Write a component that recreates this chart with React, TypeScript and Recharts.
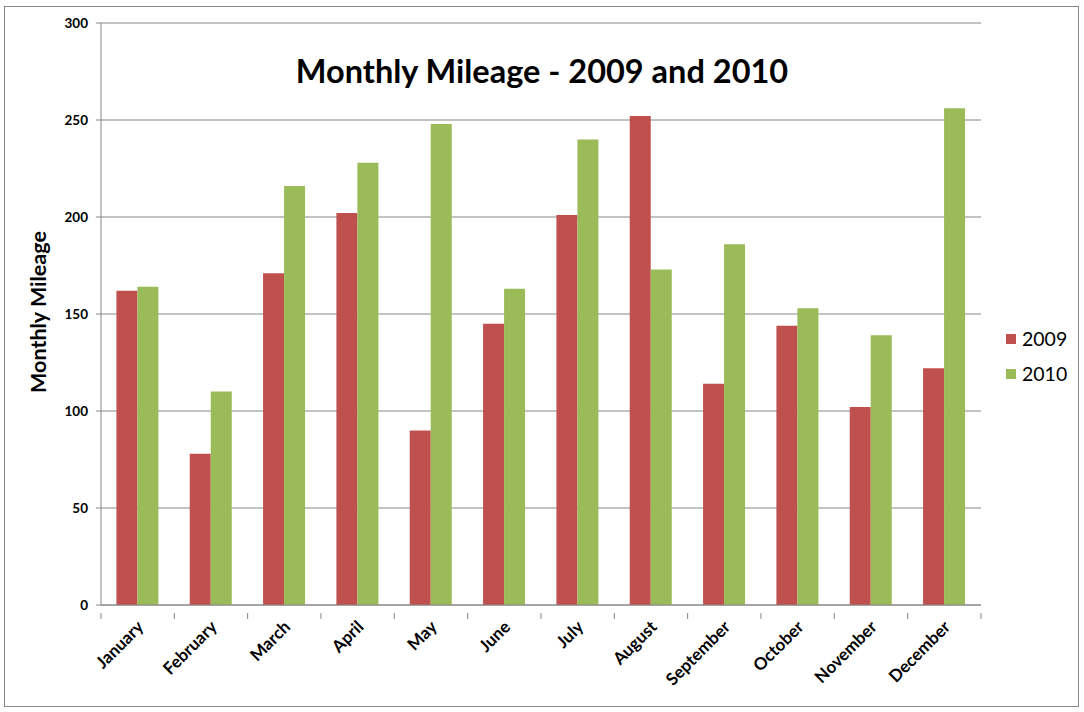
import { BarChart, Bar, XAxis, YAxis, CartesianGrid } from 'recharts';

const MONTHS = [
  'January', 'February', 'March', 'April', 'May', 'June',
  'July', 'August', 'September', 'October', 'November', 'December',
];
const MILES_2009 = [162, 78, 171, 202, 90, 145, 201, 252, 114, 144, 102, 122];
const MILES_2010 = [164, 110, 216, 228, 248, 163, 240, 173, 186, 153, 139, 256];
const Y_TICKS = [0, 50, 100, 150, 200, 250, 300];

const SERIES = [
  { key: 'y2009', name: '2009', color: '#C0504D' },
  { key: 'y2010', name: '2010', color: '#9BBB59' },
];

const data = MONTHS.map((month, i) => ({
  month,
  y2009: MILES_2009[i],
  y2010: MILES_2010[i],
}));

const FONT = 'Lato, "Open Sans", sans-serif';
const GRID = '#868686';

const W = 1084;
const H = 712;
const PLOT_LEFT = 101;
const PLOT_RIGHT = 981;
const PLOT_TOP = 23;
const PLOT_BOTTOM = 605;
const BAND = (PLOT_RIGHT - PLOT_LEFT) / MONTHS.length;

const MonthTick = ({ x, y, payload, index }: any) => {
  const left = x - BAND / 2;
  const ax = x + 7;
  const ay = y + 15;
  return (
    <g>
      <line x1={left} y1={y} x2={left} y2={y + 6} stroke={GRID} />
      {index === MONTHS.length - 1 && (
        <line x1={x + BAND / 2} y1={y} x2={x + BAND / 2} y2={y + 6} stroke={GRID} />
      )}
      <text
        x={ax}
        y={ay}
        transform={`rotate(-45 ${ax} ${ay})`}
        textAnchor="end"
        fontFamily={FONT}
        fontWeight="bold"
        fontSize={17}
        fill="#000"
      >
        {payload.value}
      </text>
    </g>
  );
};

export default function App() {
  return (
    <div style={{ position: 'absolute', left: 0, top: 0, width: W, height: H, background: '#fff' }}>
      <div
        style={{
          position: 'absolute', left: 4, top: 6, width: 1075, height: 701,
          border: '1px solid #888', boxSizing: 'border-box',
        }}
      />
      <BarChart
        width={W}
        height={H}
        data={data}
        margin={{ top: PLOT_TOP, right: W - PLOT_RIGHT, bottom: H - PLOT_BOTTOM - 60, left: PLOT_LEFT - 60 }}
        barCategoryGap="21%"
        barGap={0}
      >
        <CartesianGrid vertical={false} stroke={GRID} strokeWidth={1} />
        <XAxis
          dataKey="month"
          height={60}
          axisLine={{ stroke: GRID }}
          tickLine={false}
          interval={0}
          tick={<MonthTick />}
        />
        <YAxis
          width={60}
          domain={[0, 300]}
          ticks={Y_TICKS}
          interval={0}
          axisLine={{ stroke: GRID }}
          tickLine={{ stroke: GRID }}
          tickSize={5}
          tickMargin={8}
          tick={{ fontFamily: FONT, fontWeight: 'bold', fontSize: 13.5, fill: '#000' }}
        />
        {SERIES.map((s) => (
          <Bar key={s.key} dataKey={s.key} name={s.name} fill={s.color} isAnimationActive={false} />
        ))}
      </BarChart>
      <div
        style={{
          position: 'absolute', left: 0, width: W, top: 51, textAlign: 'center',
          fontFamily: FONT, fontWeight: 'bold', fontSize: 32.5, color: '#000',
        }}
      >
        Monthly Mileage - 2009 and 2010
      </div>
      <div
        style={{
          position: 'absolute', left: 38, top: 312, transform: 'translate(-50%, -50%) rotate(-90deg)',
          fontFamily: FONT, fontWeight: 'bold', fontSize: 21.5, whiteSpace: 'nowrap', color: '#000',
        }}
      >
        Monthly Mileage
      </div>
      <div style={{ position: 'absolute', left: 1006, top: 321, fontFamily: FONT, fontSize: 19.5, color: '#000' }}>
        {SERIES.map((s) => (
          <div key={s.key} style={{ display: 'flex', alignItems: 'center', height: 35 }}>
            <span style={{ width: 10, height: 10, background: s.color, marginRight: 6, display: 'inline-block' }} />
            {s.name}
          </div>
        ))}
      </div>
    </div>
  );
}
